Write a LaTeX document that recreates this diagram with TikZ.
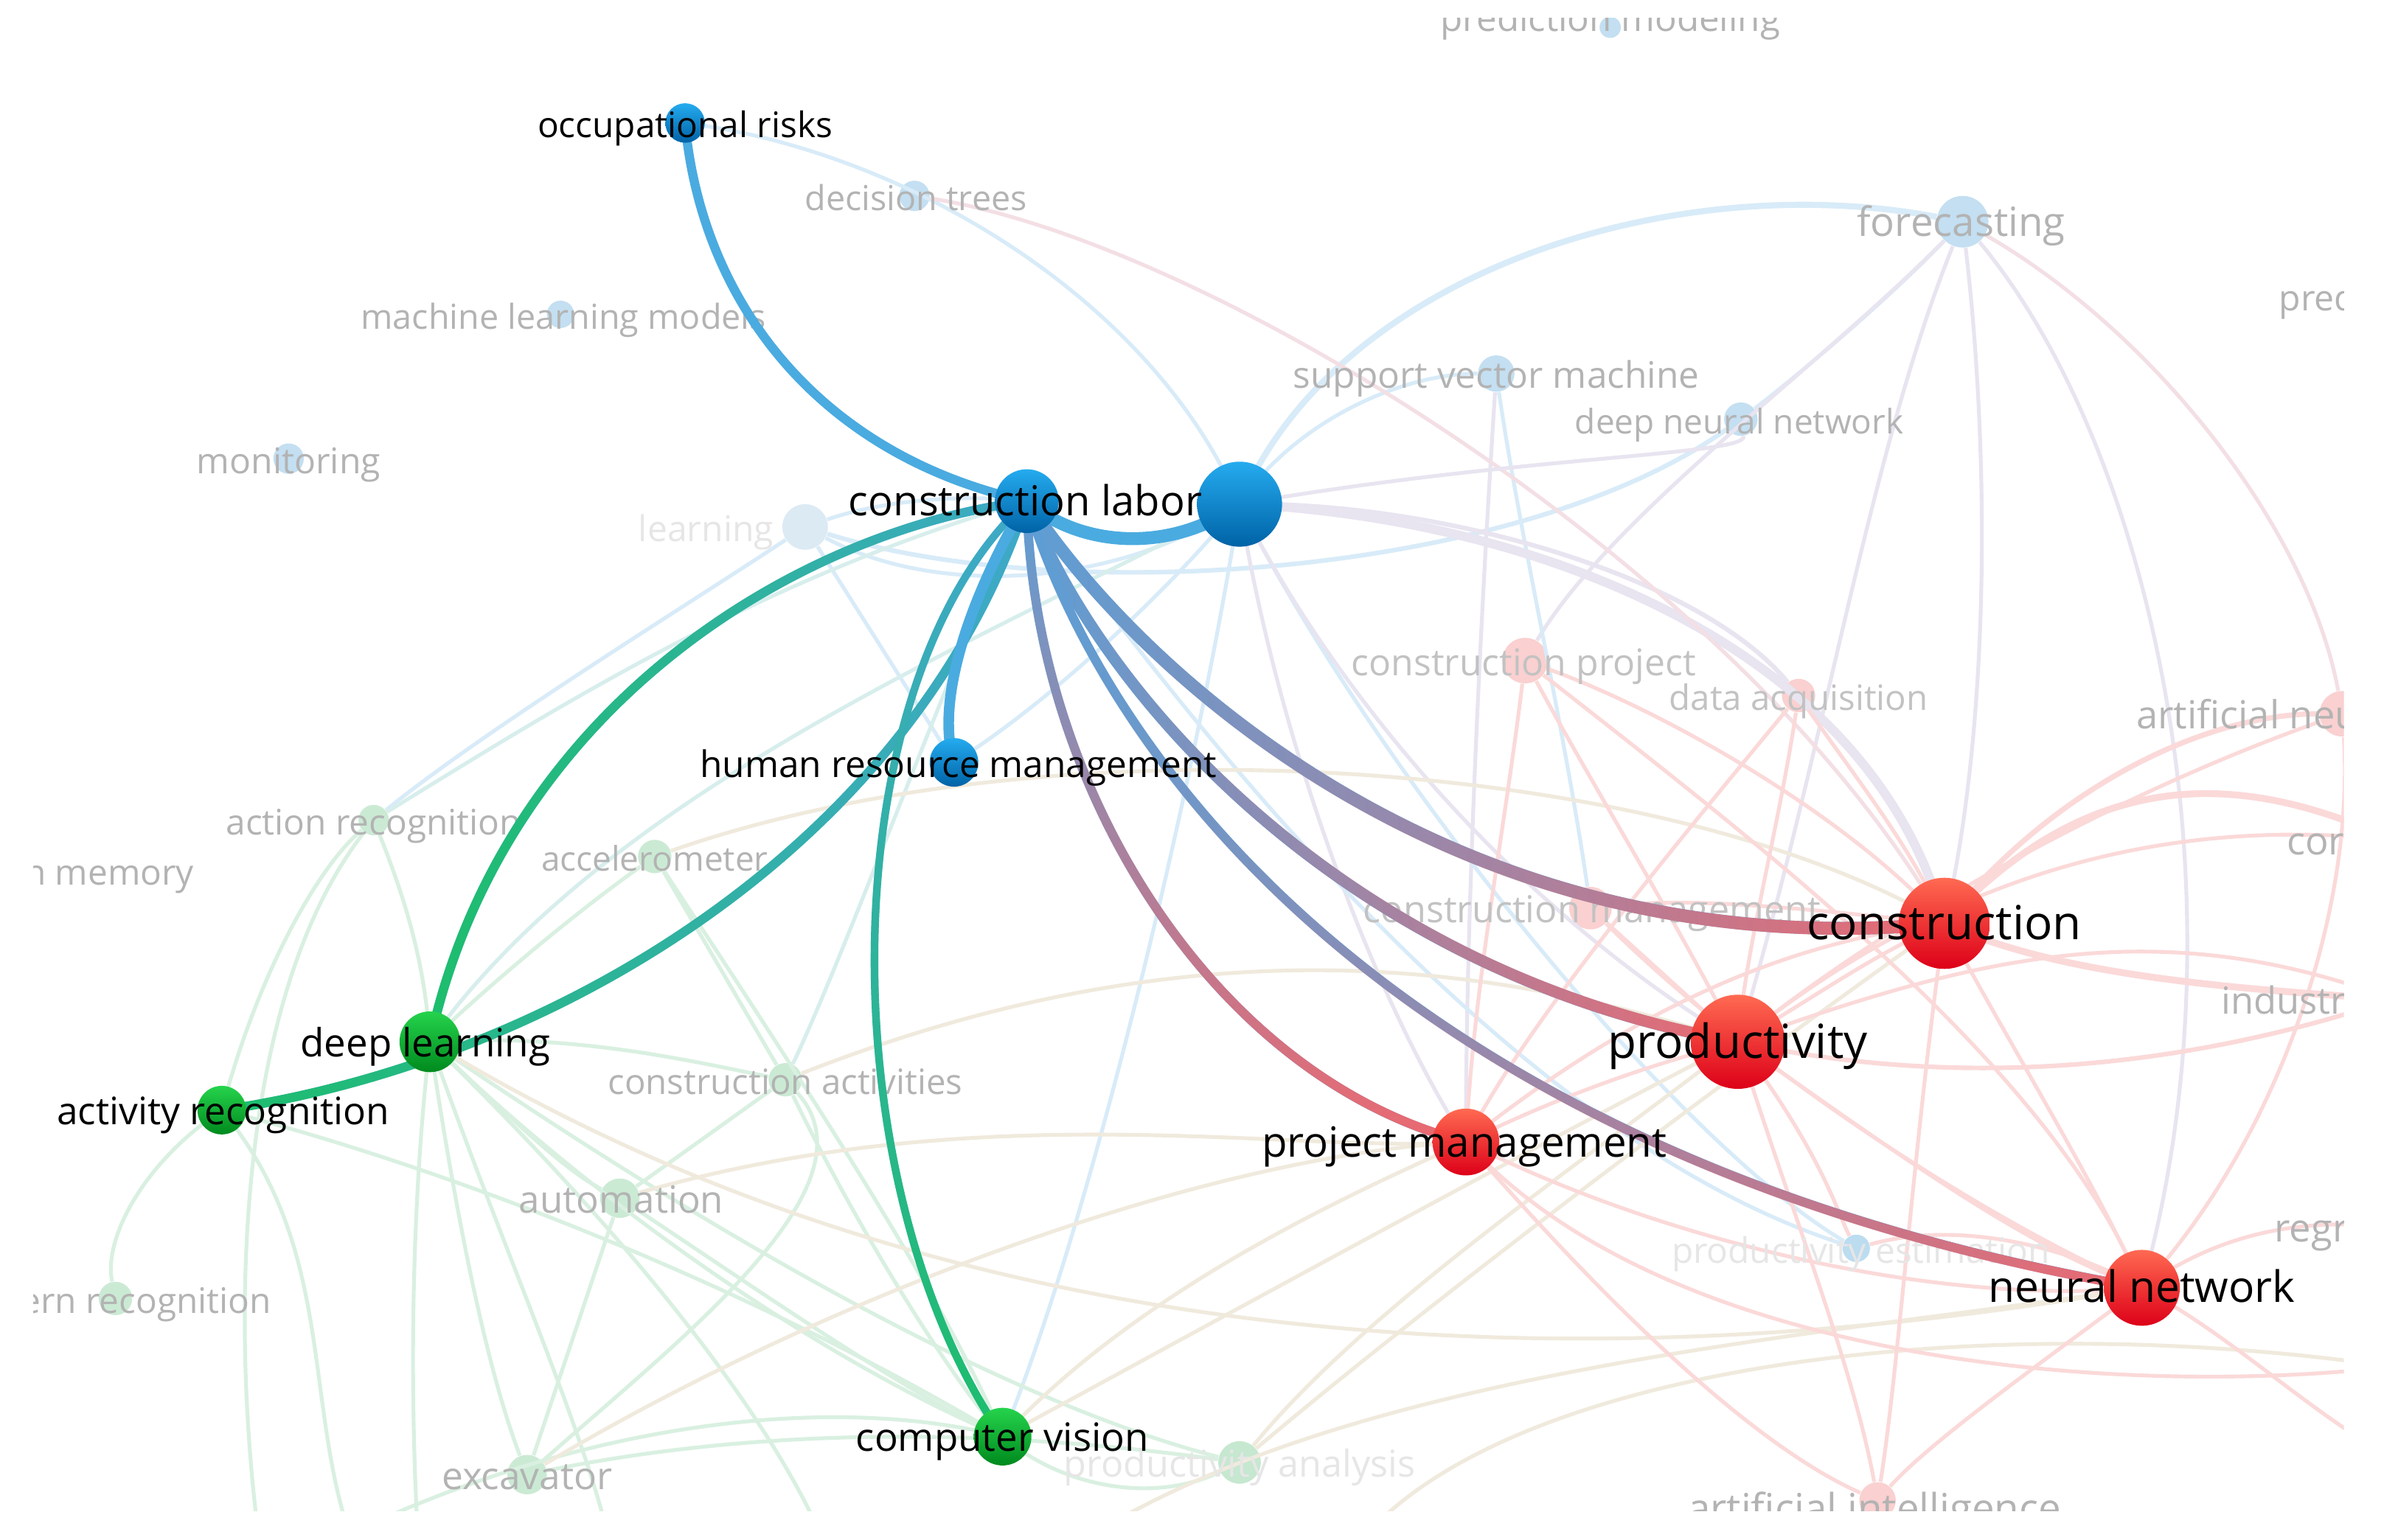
\documentclass[tikz,border=0pt]{standalone}
\usepackage{fontspec}
\setmainfont{Open Sans}
\usetikzlibrary{fadings}
% faint edge colours
\definecolor{cFB}{HTML}{D8EBF8}
\definecolor{cFR}{HTML}{FBD9D9}
\definecolor{cFG}{HTML}{D9F0E1}
\definecolor{cFT}{HTML}{F0EADD}
\definecolor{cFP}{HTML}{E8E4F0}
\definecolor{cFK}{HTML}{F3DFE4}
\definecolor{cFC}{HTML}{D7EEEC}
% strong edge colours
\definecolor{eBlue}{HTML}{4AABE0}
\definecolor{eBase}{HTML}{5C9FD6}
\definecolor{eRed}{HTML}{EC6970}
\definecolor{eTeal}{HTML}{3FA9C9}
\definecolor{eGreen}{HTML}{1DBE6C}
% node colours
\definecolor{nbT}{HTML}{25ABEF}
\definecolor{nbB}{HTML}{0062A6}
\definecolor{nrT}{HTML}{FF6A52}
\definecolor{nrB}{HTML}{DD0018}
\definecolor{ngT}{HTML}{25D34C}
\definecolor{ngB}{HTML}{008A1E}
\definecolor{fbN}{HTML}{C3DFF1}
\definecolor{frN}{HTML}{FAD0D0}
\definecolor{fgN}{HTML}{CBEAD4}
\definecolor{lrnN}{HTML}{DCEAF4}
\definecolor{peN}{HTML}{BCDCF0}
\definecolor{paN}{HTML}{C6E7D0}
\definecolor{labG}{HTML}{B3B3B3}
\definecolor{labL}{HTML}{C2C2C2}
\definecolor{labV}{HTML}{E6E6E6}
\tikzfading[name=fadeR, left color=transparent!100, right color=transparent!0]
\tikzfading[name=fadeL, left color=transparent!0, right color=transparent!100]
\tikzfading[name=fadeD, top color=transparent!100, bottom color=transparent!0]
\tikzset{
  sn/.style={circle, inner sep=0pt, minimum size=#1*0.04cm},
  bnode/.style={sn=#1, top color=nbT, bottom color=nbB},
  rnode/.style={sn=#1, top color=nrT, bottom color=nrB},
  gnode/.style={sn=#1, top color=ngT, bottom color=ngB},
  fbn/.style={sn=#1, fill=fbN},
  frn/.style={sn=#1, fill=frN},
  fgn/.style={sn=#1, fill=fgN},
  lab/.style={anchor=mid, inner sep=0pt, yshift=-0.1cm, text=black, font=\fontsize{#1pt}{#1pt}\selectfont},
  flab/.style={anchor=mid, inner sep=0pt, yshift=-0.1cm, text=labG, font=\fontsize{#1pt}{#1pt}\selectfont},
  fe/.style={line width=0.05cm},
  fet/.style={line width=0.09cm},
}
\begin{document}
\begin{tikzpicture}[x=0.02cm,y=-0.02cm]
\useasboundingbox (0,0) rectangle (1569.4,1013.6);
\fill[white] (0,0) rectangle (1569.4,1013.6);
\begin{scope}
\clip (22,12) rectangle (1543,995);

% ---------- coordinates of nodes outside the view ----------
\coordinate (cor) at (1575,553);
\coordinate (ind) at (1575,658);
\coordinate (regr) at (1575,808);
\coordinate (rb1) at (1575,960);
\coordinate (rb2) at (1575,900);
\coordinate (b1) at (170,1010);
\coordinate (b2) at (400,1010);
\coordinate (b3) at (540,1010);
\coordinate (b4) at (275,1010);
\coordinate (b5) at (230,1010);
\coordinate (b6) at (720,1010);
\coordinate (b7) at (900,1010);

% ---------- node positions (drawn later) ----------
\path (451,81) coordinate (occP) (676,330) coordinate (clP) (816,332) coordinate (bigP)
      (628,502) coordinate (hrmP) (283,686) coordinate (dlP) (146,731) coordinate (arP)
      (660,946) coordinate (cvP) (1280,608) coordinate (conP) (1144,686) coordinate (prodP)
      (965,752) coordinate (pmP) (1410,848) coordinate (nnP);

% ---------- faint nodes ----------
\node[fbn=7] (pmod) at (1060,18) {};
\node[fbn=10] (dt) at (602,129) {};
\node[fbn=9] (mlm) at (369,207) {};
\node[fbn=10] (mon) at (190,302) {};
\node[sn=15, fill=lrnN] (lrn) at (530,347) {};
\node[fbn=17] (fc) at (1292,146) {};
\node[fbn=12] (svm) at (985,246) {};
\node[fbn=11] (dnn) at (1146,276) {};
\node[frn=15] (cp) at (1004,435) {};
\node[frn=11] (da) at (1184,458) {};
\node[frn=15] (ann) at (1542,470) {};
\node[frn=14] (cm) at (1047,598) {};
\node[fgn=10] (acr) at (246,540) {};
\node[fgn=11] (acc) at (431,564) {};
\node[fgn=11] (ca) at (517,711) {};
\node[fgn=13] (aut) at (408,789) {};
\node[fgn=11] (pr) at (76,855) {};
\node[fgn=13] (exc) at (347,971) {};
\node[sn=14, fill=paN] (pa) at (816,963) {};
\node[sn=9, fill=peN] (pe) at (1222,822) {};
\node[frn=12] (ai) at (1236,988) {};

% ---------- faint edges: blue cluster ----------
\draw[line width=0.08cm, cFB] (bigP) .. controls (880,180) and (1100,110) .. (fc);
\draw[fe, cFB] (bigP) .. controls (850,280) and (920,246) .. (svm);
\draw[fe, cFB] (occP) .. controls (600,100) and (760,200) .. (bigP);
\draw[line width=0.06cm, cFB] (dnn) .. controls (1000,380) and (700,400) .. (lrn);
\draw[fe, cFB] (fc) .. controls (1240,200) and (1180,250) .. (dnn);
\draw[fe, cFP] (fc) .. controls (1200,240) and (1060,340) .. (cp);
\draw[fe, cFB] (svm) .. controls (1000,350) and (1030,480) .. (cm);
\draw[fe, cFP] (svm) .. controls (975,400) and (965,600) .. (pmP);
\draw[fe, cFP] (fc) .. controls (1230,300) and (1200,500) .. (prodP);
\draw[fe, cFP] (fc) .. controls (1310,300) and (1310,480) .. (conP);
\draw[fe, cFP] (fc) .. controls (1420,300) and (1480,600) .. (nnP);
\draw[fe, cFK] (fc) .. controls (1420,220) and (1520,350) .. (ann);
\draw[fe, cFB] (lrn) .. controls (620,395) and (740,385) .. (bigP);
\draw[fe, cFB] (lrn) -- (hrmP);
\draw[fe, cFB] (lrn) .. controls (580,330) and (630,325) .. (clP);
\draw[fe, cFB] (lrn) .. controls (450,400) and (320,480) .. (acr);
\draw[fe, cFB] (bigP) .. controls (760,400) and (680,470) .. (hrmP);
\draw[fe, cFB] (bigP) .. controls (790,500) and (720,800) .. (cvP);
\draw[fe, cFP] (bigP) .. controls (840,480) and (900,650) .. (pmP);
\draw[fe, cFB] (bigP) .. controls (900,500) and (1100,750) .. (pe);
\draw[line width=0.12cm, cFP] (bigP) .. controls (1000,340) and (1230,420) .. (conP);
\draw[line width=0.06cm, cFP] (bigP) .. controls (950,330) and (1120,380) .. (da);
\draw[fe, cFP] (bigP) .. controls (880,460) and (1000,600) .. (prodP);
\draw[fe, cFC] (bigP) .. controls (650,420) and (400,520) .. (dlP);
\draw[fe, cFC] (clP) .. controls (620,450) and (560,620) .. (ca);
\draw[fe, cFC] (clP) .. controls (500,380) and (360,470) .. (acr);
\draw[fe, cFB] (clP) .. controls (800,500) and (1000,750) .. (pe);
\draw[fe, cFK] (dt) .. controls (800,160) and (1150,380) .. (conP);
\draw[fe, cFP] (bigP) .. controls (1000,300) and (1150,300) .. (dnn);

% ---------- faint edges: green cluster ----------
\draw[fe, cFG] (arP) .. controls (95,765) and (68,815) .. (pr);
\draw[fe, cFG] (arP) .. controls (170,640) and (210,570) .. (acr);
\draw[fe, cFG] (acr) .. controls (160,650) and (150,850) .. (b1);
\draw[fe, cFG] (acr) .. controls (270,600) and (280,640) .. (dlP);
\draw[fe, cFG] (dlP) .. controls (330,730) and (370,770) .. (aut);
\draw[fe, cFG] (dlP) .. controls (300,800) and (320,900) .. (exc);
\draw[fe, cFG] (dlP) .. controls (400,800) and (550,900) .. (cvP);
\draw[fe, cFG] (dlP) .. controls (450,800) and (650,920) .. (pa);
\draw[fe, cFG] (dlP) .. controls (380,680) and (460,700) .. (ca);
\draw[fe, cFG] (dlP) .. controls (330,820) and (380,930) .. (b2);
\draw[fe, cFG] (dlP) .. controls (400,800) and (500,920) .. (b3);
\draw[fe, cFG] (dlP) .. controls (270,800) and (270,920) .. (b4);
\draw[fe, cFG] (arP) .. controls (300,770) and (500,850) .. (cvP);
\draw[fe, cFG] (arP) .. controls (220,820) and (200,920) .. (b5);
\draw[fe, cFG] (acc) .. controls (380,600) and (320,650) .. (dlP);
\draw[fe, cFG] (acc) -- (ca);
\draw[fe, cFG] (acc) .. controls (520,700) and (620,850) .. (cvP);
\draw[fe, cFG] (ca) .. controls (560,800) and (620,900) .. (cvP);
\draw[fe, cFG] (ca) -- (aut);
\draw[fe, cFG] (aut) .. controls (500,850) and (600,920) .. (cvP);
\draw[fe, cFG] (aut) -- (exc);
\draw[fe, cFG] (exc) .. controls (500,940) and (650,940) .. (pa);
\draw[fe, cFG] (b5) .. controls (400,930) and (560,920) .. (cvP);
\draw[fe, cFG] (exc) .. controls (450,880) and (580,780) .. (ca);
\draw[fe, cFG] (cvP) .. controls (700,980) and (760,990) .. (pa);

% ---------- faint edges: between green and red ----------
\draw[fe, cFT] (acc) .. controls (700,470) and (1100,500) .. (conP);
\draw[fe, cFT] (ca) .. controls (800,600) and (1000,640) .. (prodP);
\draw[fe, cFT] (aut) .. controls (650,720) and (850,760) .. (pmP);
\draw[fe, cFT] (dlP) .. controls (600,880) and (1000,920) .. (nnP);
\draw[fe, cFT] (cvP) .. controls (800,870) and (1000,760) .. (prodP);
\draw[fe, cFT] (pa) .. controls (900,860) and (1050,760) .. (prodP);
\draw[fe, cFT] (pa) .. controls (950,850) and (1150,700) .. (conP);
\draw[fe, cFT] (cvP) .. controls (750,850) and (880,790) .. (pmP);
\draw[fe, cFT] (exc) .. controls (550,850) and (800,760) .. (pmP);
\draw[fe, cFT] (b6) .. controls (900,900) and (1200,880) .. (nnP);
\draw[fe, cFT] (b7) .. controls (1000,900) and (1300,860) .. (rb2);

% ---------- faint edges: red cluster ----------
\draw[fe, cFR] (conP) .. controls (1230,630) and (1190,660) .. (prodP);
\draw[fe, cFR] (conP) .. controls (1330,700) and (1380,780) .. (nnP);
\draw[fe, cFR] (prodP) .. controls (1250,760) and (1330,820) .. (nnP);
\draw[fe, cFR] (pmP) .. controls (1030,720) and (1090,700) .. (prodP);
\draw[fe, cFR] (pmP) .. controls (1080,660) and (1180,620) .. (conP);
\draw[fe, cFR] (pmP) .. controls (1100,820) and (1280,860) .. (nnP);
\draw[line width=0.07cm, cFR] (conP) .. controls (1350,520) and (1450,470) .. (ann);
\draw[fet, cFR] (conP) .. controls (1380,500) and (1480,510) .. (cor);
\draw[fet, cFR] (conP) .. controls (1350,640) and (1450,650) .. (ind);
\draw[line width=0.06cm, cFR] (prodP) .. controls (1300,720) and (1450,700) .. (ind);
\draw[fe, cFR] (prodP) .. controls (1300,560) and (1450,540) .. (cor);
\draw[fe, cFR] (nnP) .. controls (1450,820) and (1500,800) .. (regr);
\draw[fe, cFR] (nnP) .. controls (1470,880) and (1520,930) .. (rb1);
\draw[fe, cFR] (conP) .. controls (1260,750) and (1250,900) .. (ai);
\draw[fe, cFR] (prodP) .. controls (1180,800) and (1220,900) .. (ai);
\draw[fe, cFR] (nnP) .. controls (1340,900) and (1270,950) .. (ai);
\draw[fe, cFR] (pmP) .. controls (1050,850) and (1150,950) .. (ai);
\draw[fe, cFR] (cp) .. controls (1050,520) and (1100,600) .. (prodP);
\draw[fe, cFR] (cp) .. controls (1100,470) and (1220,540) .. (conP);
\draw[fe, cFR] (cp) .. controls (990,550) and (970,650) .. (pmP);
\draw[fe, cFR] (cp) .. controls (1150,550) and (1350,700) .. (nnP);
\draw[fe, cFR] (da) .. controls (1220,510) and (1260,560) .. (conP);
\draw[fe, cFR] (da) .. controls (1170,550) and (1150,620) .. (prodP);
\draw[fe, cFR] (da) .. controls (1100,560) and (1000,680) .. (pmP);
\draw[fe, cFR] (cm) .. controls (1120,590) and (1200,600) .. (conP);
\draw[fe, cFR] (cm) -- (prodP);
\draw[fe, cFR] (cm) .. controls (1150,700) and (1300,800) .. (nnP);
\draw[fe, cFR] (ann) .. controls (1400,520) and (1250,600) .. (prodP);
\draw[fe, cFR] (ann) .. controls (1550,600) and (1500,750) .. (nnP);
\draw[fe, cFR] (pmP) .. controls (1100,900) and (1400,920) .. (rb2);
\draw[fe, cFR] (prodP) .. controls (1300,630) and (1420,600) .. (ind);
\draw[fe, cFR] (pe) .. controls (1300,800) and (1380,830) .. (nnP);
\draw[fe, cFR] (prodP) .. controls (1200,760) and (1210,800) .. (pe);

% ---------- faint labels ----------
\node[flab=13.6] (l-pmod) at (1060,11) {prediction modeling};
\node[flab=12.9] (l-dt) at (603,129) {decision trees};
\node[flab=12.9] (l-mlm) at (371,207) {machine learning models};
\node[flab=13.3] (l-mon) at (190,302) {monitoring};
\node[flab=13.3, text=labV, anchor=mid west] (l-lrn) at (420,347) {learning};
\node[flab=15.1] (l-fc) at (1291,146) {forecasting};
\node[flab=13.7] (l-svm) at (985,246) {support vector machine};
\node[flab=12.7] (l-dnn) at (1145,276) {deep neural network};
\node[flab=13.3, anchor=mid west] (l-pred) at (1500,195) {pred};
\node[flab=13.8, text=labL] (l-cp) at (1003,435) {construction project};
\node[flab=13.1, text=labL] (l-da) at (1184,458) {data acquisition};
\node[flab=14.5, anchor=mid west] (l-ann) at (1406,470) {artificial neu};
\node[flab=14.5, anchor=mid west] (l-cor) at (1505,553) {cor};
\node[flab=13.2] (l-acr) at (246,540) {action recognition};
\node[flab=13.2, anchor=mid east] (l-lstm) at (128,573) {n memory};
\node[flab=12.7] (l-acc) at (431,564) {accelerometer};
\node[flab=13.9, text=labL] (l-cm) at (1048,598) {construction management};
\node[flab=14.0, anchor=mid west] (l-ind) at (1462,658) {industri};
\node[flab=13.1] (l-ca) at (517,711) {construction activities};
\node[flab=14.1] (l-aut) at (409,789) {automation};
\node[flab=14.5, anchor=mid west] (l-regr) at (1497,808) {regr};
\node[flab=13.2, text=labV] (l-pe) at (1225,822) {productivity estimation};
\node[flab=13.2, anchor=mid east] (l-pr) at (179,855) {ern recognition};
\node[flab=14.2] (l-exc) at (347,971) {excavator};
\node[flab=13.9, text=labV] (l-pa) at (816,963) {productivity analysis};
\node[flab=15.1] (l-ai) at (1234,993) {artificial intelligence};

% ---------- strong edges ----------
\draw[eBlue, line width=0.12cm] (occP) .. controls (462,200) and (540,300) .. (clP);
\draw[eBlue, line width=0.17cm] (clP) .. controls (710,360) and (770,365) .. (bigP);
% to green cluster
\draw[eTeal, line width=0.12cm] (clP) .. controls (520,350) and (330,470) .. (dlP);
\draw[eGreen, line width=0.12cm, path fading=fadeL] (clP) .. controls (520,350) and (330,470) .. (dlP);
\draw[eTeal, line width=0.12cm] (arP) .. controls (360,700) and (600,560) .. (clP);
\draw[eGreen, line width=0.12cm, path fading=fadeL] (arP) .. controls (360,700) and (600,560) .. (clP);
\draw[eTeal, line width=0.10cm] (clP) .. controls (545,450) and (545,780) .. (cvP);
\draw[eGreen, line width=0.10cm, path fading=fadeD] (clP) .. controls (545,450) and (545,780) .. (cvP);
\draw[eBlue, line width=0.14cm] (clP) .. controls (640,390) and (615,460) .. (hrmP);
% to red cluster
\draw[eBase, line width=0.17cm] (clP) .. controls (740,430) and (950,640) .. (conP);
\draw[eRed, line width=0.17cm, path fading=fadeR] (clP) .. controls (740,430) and (950,640) .. (conP);
\draw[eBase, line width=0.15cm] (clP) .. controls (720,450) and (880,640) .. (prodP);
\draw[eRed, line width=0.15cm, path fading=fadeR] (clP) .. controls (720,450) and (880,640) .. (prodP);
\draw[eBase, line width=0.12cm] (clP) .. controls (680,520) and (800,710) .. (pmP);
\draw[eRed, line width=0.12cm, path fading=fadeD] (clP) .. controls (680,520) and (800,710) .. (pmP);
\draw[eBase, line width=0.12cm] (clP) .. controls (720,480) and (900,760) .. (nnP);
\draw[eRed, line width=0.12cm, path fading=fadeR] (clP) .. controls (720,480) and (900,760) .. (nnP);

% ---------- strong nodes ----------
\node[bnode=13] (occ) at (occP) {};
\node[bnode=21] (cl) at (clP) {};
\node[bnode=28] (big) at (bigP) {};
\node[bnode=16] (hrm) at (hrmP) {};
\node[gnode=20] (dl) at (dlP) {};
\node[gnode=16] (ar) at (arP) {};
\node[gnode=19] (cv) at (cvP) {};
\node[rnode=30] (con) at (conP) {};
\node[rnode=31] (prod) at (prodP) {};
\node[rnode=22] (pm) at (pmP) {};
\node[rnode=25] (nn) at (nnP) {};

% ---------- strong labels ----------
\node[lab=13.2] (l-occ) at (451,81) {occupational risks};
\node[lab=15.5] (l-cl) at (675,330) {construction labor};
\node[lab=13.7] (l-hrm) at (631,502) {human resource management};
\node[lab=14.6] (l-dl) at (280,686) {deep learning};
\node[lab=14.2] (l-ar) at (147,731) {activity recognition};
\node[lab=14.6] (l-cv) at (660,946) {computer vision};
\node[lab=17.6] (l-con) at (1280,609) {construction};
\node[lab=17.6] (l-prod) at (1144,687) {productivity};
\node[lab=15.6] (l-pm) at (964,752) {project management};
\node[lab=16.2] (l-nn) at (1410,848) {neural network};
\end{scope}
\end{tikzpicture}
\end{document}
